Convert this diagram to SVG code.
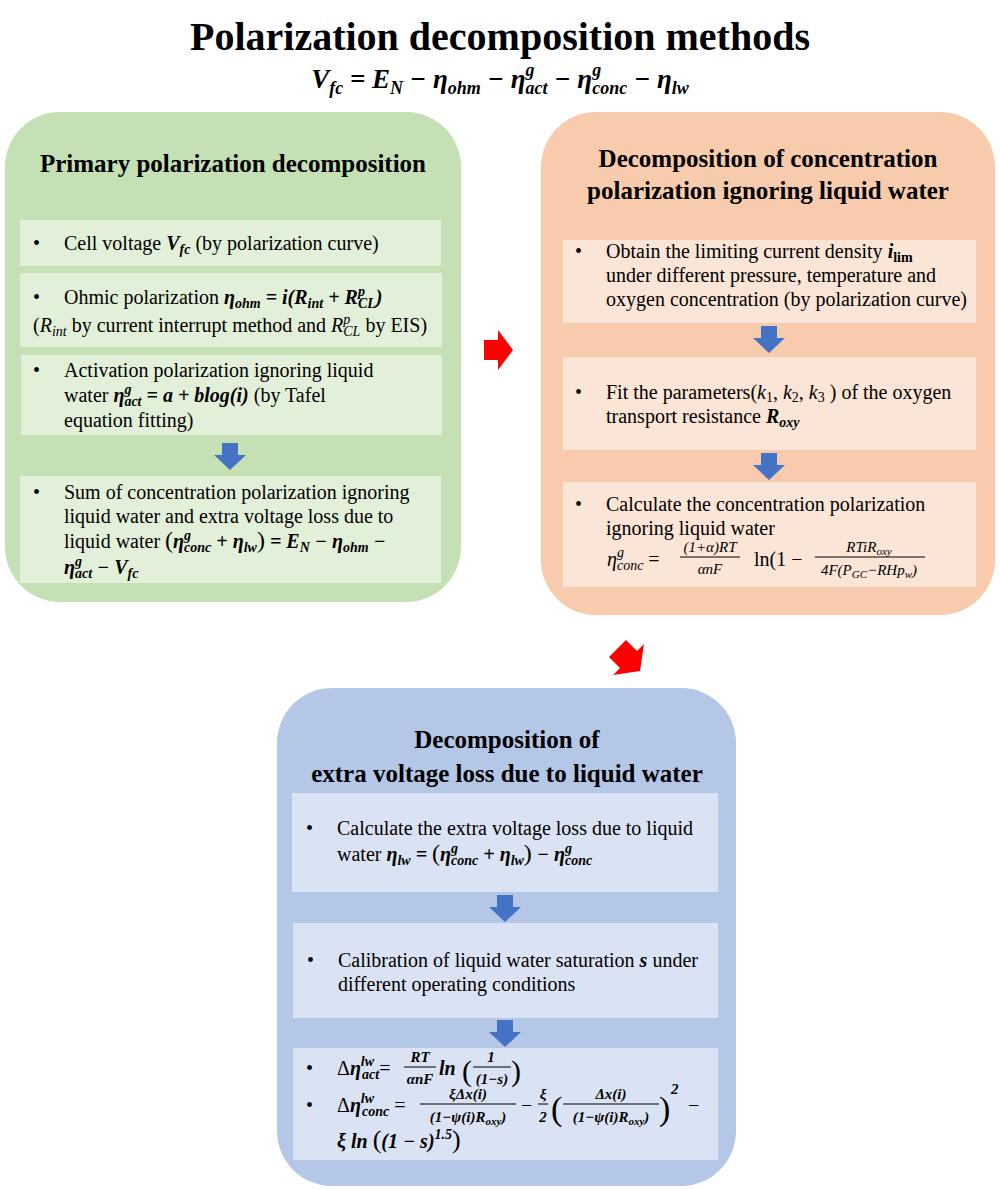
<svg xmlns="http://www.w3.org/2000/svg" width="1000" height="1189" viewBox="0 0 1000 1189">
<style>
text{font-family:"Liberation Serif","Times New Roman",serif;fill:#000}
.t{font-size:20px}
.h{font-size:25px;font-weight:bold}
.m{font-style:italic;font-weight:bold}
.i{font-style:italic}
.s{font-size:14px}
.f{font-size:15px}
.fl{stroke:#000;stroke-width:1}
.g{fill:#c5e0b4}.gi{fill:#e2f0d9}
.o{fill:#f8cbad}.oi{fill:#fbe5d6}
.b{fill:#b4c7e7}.bi{fill:#dae3f3}
.ba{fill:#4472c4}
</style>
<defs>
<path id="da" d="M-8,0 H8 V12 H16 L0,27 L-16,12 H-8 Z"/>
</defs>
<text x="500" y="50" text-anchor="middle" style="font-size:40px;font-weight:bold">Polarization decomposition methods</text>
<text x="500" y="88" text-anchor="middle" class="m" style="font-size:27px">V<tspan style="font-size:18px" dy="6">fc</tspan><tspan dy="-6"> = E</tspan><tspan style="font-size:18px" dy="6">N</tspan><tspan dy="-6"> − η</tspan><tspan style="font-size:18px" dy="6">ohm</tspan><tspan dy="-6"> − η</tspan><tspan style="font-size:18px" dy="-12">g</tspan><tspan style="font-size:18px" dx="-9" dy="18">act</tspan><tspan dy="-6"> − η</tspan><tspan style="font-size:18px" dy="-12">g</tspan><tspan style="font-size:18px" dx="-9" dy="18">conc</tspan><tspan dy="-6"> − η</tspan><tspan style="font-size:18px" dy="6">lw</tspan></text>

<g id="primary">
<rect class="g" x="5" y="112" width="456" height="490" rx="55"/>
<text class="h" x="233" y="172" text-anchor="middle">Primary polarization decomposition</text>
<rect class="gi" x="20" y="220" width="421" height="46"/>
<text class="t" x="33" y="250">•<tspan x="64">Cell voltage </tspan><tspan class="m">V</tspan><tspan class="m s" dy="4">fc</tspan><tspan dy="-4"> (by polarization curve)</tspan></text>
<rect class="gi" x="20" y="273" width="422" height="74"/>
<text class="t" x="33" y="304">•<tspan x="64">Ohmic polarization </tspan><tspan class="m">η</tspan><tspan class="m s" dy="4">ohm</tspan><tspan class="m" dy="-4"> = i(R</tspan><tspan class="m s" dy="4">int</tspan><tspan class="m" dy="-4"> + R</tspan><tspan class="m s" dy="-8">p</tspan><tspan class="m s" dx="-7" dy="12">CL</tspan><tspan class="m" dy="-4">)</tspan></text>
<text class="t" x="33" y="332">(<tspan class="i">R</tspan><tspan class="i s" dy="4">int</tspan><tspan dy="-4"> by current interrupt method and </tspan><tspan class="i">R</tspan><tspan class="i s" dy="-8">p</tspan><tspan class="i s" dx="-7" dy="12">CL</tspan><tspan dy="-4"> by EIS)</tspan></text>
<rect class="gi" x="21" y="355" width="421" height="80"/>
<text class="t" x="33" y="377">•<tspan x="64">Activation polarization ignoring liquid</tspan></text>
<text class="t" x="64" y="402">water <tspan class="m">η</tspan><tspan class="m s" dy="-8">g</tspan><tspan class="m s" dx="-7" dy="12">act</tspan><tspan class="m" dy="-4"> = a + blog(i)</tspan> (by Tafel</text>
<text class="t" x="64" y="427">equation fitting)</text>
<use href="#da" class="ba" x="230" y="443"/>
<rect class="gi" x="20" y="476" width="421" height="107"/>
<text class="t" x="33" y="499">•<tspan x="64">Sum of concentration polarization ignoring</tspan></text>
<text class="t" x="64" y="523">liquid water and extra voltage loss due to</text>
<text class="t" x="64" y="548">liquid water <tspan style="font-size:24px">(</tspan><tspan class="m">η</tspan><tspan class="m s" dy="-8">g</tspan><tspan class="m s" dx="-7" dy="12">conc</tspan><tspan class="m" dy="-4"> + η</tspan><tspan class="m s" dy="4">lw</tspan><tspan dy="-4" style="font-size:24px">)</tspan><tspan class="m"> = E</tspan><tspan class="m s" dy="4">N</tspan><tspan class="m" dy="-4"> − η</tspan><tspan class="m s" dy="4">ohm</tspan><tspan class="m" dy="-4"> −</tspan></text>
<text class="t" x="64" y="574"><tspan class="m">η</tspan><tspan class="m s" dy="-8">g</tspan><tspan class="m s" dx="-7" dy="12">act</tspan><tspan class="m" dy="-4"> − V</tspan><tspan class="m s" dy="4">fc</tspan></text>
</g>

<g id="concentration">
<rect class="o" x="541" y="112" width="454" height="503" rx="55"/>
<text class="h" x="768" y="167" text-anchor="middle">Decomposition of concentration</text>
<text class="h" x="768" y="199" text-anchor="middle">polarization ignoring liquid water</text>
<rect class="oi" x="563" y="240" width="413" height="83"/>
<text class="t" x="575" y="258">•<tspan x="606">Obtain the limiting current density </tspan><tspan class="m">i</tspan><tspan class="s" font-weight="bold" dy="4">lim</tspan></text>
<text class="t" x="606" y="282">under different pressure, temperature and</text>
<text class="t" x="606" y="306">oxygen concentration (by polarization curve)</text>
<use href="#da" class="ba" x="769" y="326"/>
<rect class="oi" x="563" y="357" width="413" height="93"/>
<text class="t" x="575" y="399">•<tspan x="606">Fit the parameters(</tspan><tspan class="i">k</tspan><tspan class="s" dy="3">1</tspan><tspan dy="-3">,  </tspan><tspan class="i">k</tspan><tspan class="s" dy="3">2</tspan><tspan dy="-3">, </tspan><tspan class="i">k</tspan><tspan class="s" dy="3">3</tspan><tspan dy="-3"> ) of the oxygen</tspan></text>
<text class="t" x="606" y="423">transport resistance <tspan class="m">R</tspan><tspan class="m s" dy="4">oxy</tspan></text>
<use href="#da" class="ba" x="769" y="453"/>
<rect class="oi" x="563" y="482" width="413" height="105"/>
<text class="t" x="575" y="511">•<tspan x="606">Calculate the concentration polarization</tspan></text>
<text class="t" x="606" y="535">ignoring liquid water</text>
<text class="t" x="607" y="566"><tspan class="i">η</tspan><tspan class="i s" dy="-9">g</tspan><tspan class="i s" dx="-7" dy="13">conc</tspan><tspan dy="-4"> =</tspan></text>
<text class="f i" x="710" y="552" text-anchor="middle">(1+α)RT</text>
<line class="fl" x1="680" y1="557" x2="740" y2="557"/>
<text class="f i" x="710" y="574" text-anchor="middle">αnF</text>
<text class="t" x="754" y="566">ln(1 −</text>
<text class="f i" x="869" y="552" text-anchor="middle">RTiR<tspan style="font-size:11px" dy="3">oxy</tspan></text>
<line class="fl" x1="815" y1="557" x2="925" y2="557"/>
<text class="f i" x="869" y="575" text-anchor="middle">4F(P<tspan style="font-size:11px" dy="3">GC</tspan><tspan dy="-3">−RHp</tspan><tspan style="font-size:11px" dy="3">w</tspan><tspan dy="-3">)</tspan></text>
</g>

<g id="liquid">
<rect class="b" x="277" y="688" width="459" height="498" rx="55"/>
<text class="h" x="507" y="748" text-anchor="middle">Decomposition of</text>
<text class="h" x="507" y="782" text-anchor="middle">extra voltage loss due to liquid water</text>
<rect class="bi" x="292" y="793" width="426" height="99"/>
<text class="t" x="306" y="835">•<tspan x="337">Calculate the extra voltage loss due to liquid</tspan></text>
<text class="t" x="337" y="861">water <tspan class="m">η</tspan><tspan class="m s" dy="4">lw</tspan><tspan class="m" dy="-4"> = </tspan><tspan style="font-size:24px">(</tspan><tspan class="m">η</tspan><tspan class="m s" dy="-8">g</tspan><tspan class="m s" dx="-7" dy="12">conc</tspan><tspan class="m" dy="-4"> + η</tspan><tspan class="m s" dy="4">lw</tspan><tspan dy="-4" style="font-size:24px">)</tspan><tspan class="m"> − η</tspan><tspan class="m s" dy="-8">g</tspan><tspan class="m s" dx="-7" dy="12">conc</tspan></text>
<use href="#da" class="ba" x="505" y="895"/>
<rect class="bi" x="293" y="923" width="425" height="95"/>
<text class="t" x="307" y="967">•<tspan x="338">Calibration of liquid water saturation </tspan><tspan class="m">s</tspan> under</text>
<text class="t" x="338" y="991">different operating conditions</text>
<use href="#da" class="ba" x="505" y="1020"/>
<rect class="bi" x="293" y="1048" width="425" height="112"/>
<text class="t" x="306" y="1075">•<tspan x="337">Δ</tspan><tspan class="m">η</tspan><tspan class="m s" dy="-9">lw</tspan><tspan class="m s" dx="-12" dy="13">act</tspan><tspan dy="-4">=</tspan></text>
<text class="f m" x="420" y="1062" text-anchor="middle">RT</text>
<line class="fl" x1="404" y1="1067" x2="436" y2="1067"/>
<text class="f m" x="420" y="1084" text-anchor="middle">αnF</text>
<text class="t m" x="439" y="1075">ln</text>
<text x="462" y="1081" style="font-size:30px">(</text>
<text class="f m" x="491" y="1062" text-anchor="middle">1</text>
<line class="fl" x1="473" y1="1067" x2="511" y2="1067"/>
<text class="f m" x="492" y="1084" text-anchor="middle">(1−s)</text>
<text x="511" y="1081" style="font-size:30px">)</text>
<text class="t" x="306" y="1112">•<tspan x="337">Δ</tspan><tspan class="m">η</tspan><tspan class="m s" dy="-9">lw</tspan><tspan class="m s" dx="-12" dy="13">conc</tspan><tspan dy="-4"> =</tspan></text>
<text class="f m" x="468" y="1099" text-anchor="middle">ξΔx(i)</text>
<line class="fl" x1="420" y1="1104" x2="516" y2="1104"/>
<text class="f m" x="468" y="1122" text-anchor="middle">(1−ψ(i)R<tspan style="font-size:11px" dy="3">oxy</tspan><tspan dy="-3">)</tspan></text>
<text class="t" x="521" y="1112">−</text>
<text class="f m" x="543" y="1099" text-anchor="middle">ξ</text>
<line class="fl" x1="538" y1="1104" x2="548" y2="1104"/>
<text class="f m" x="543" y="1122" text-anchor="middle">2</text>
<text x="551" y="1120" style="font-size:34px">(</text>
<text class="f m" x="611" y="1099" text-anchor="middle">Δx(i)</text>
<line class="fl" x1="563" y1="1104" x2="659" y2="1104"/>
<text class="f m" x="611" y="1122" text-anchor="middle">(1−ψ(i)R<tspan style="font-size:11px" dy="3">oxy</tspan><tspan dy="-3">)</tspan></text>
<text x="659" y="1120" style="font-size:34px">)</text>
<text class="f m" x="671" y="1094">2</text>
<text class="t" x="688" y="1112">−</text>
<text class="t m" x="337" y="1148">ξ ln <tspan font-style="normal" font-weight="normal" style="font-size:26px">(</tspan>(1 − s)<tspan class="s" dy="-9">1.5</tspan><tspan dy="9" font-style="normal" font-weight="normal" style="font-size:26px">)</tspan></text>
</g>

<g id="connectors">
<path fill="#ff0000" d="M484,340 H498 V330 L513,350 L498,370 V360 H484 Z"/>
<path fill="#ff0000" d="M626,640 L637,651 L644,644 L640,671 L613,675 L620,668 L609,657 Z"/>
</g>
</svg>
